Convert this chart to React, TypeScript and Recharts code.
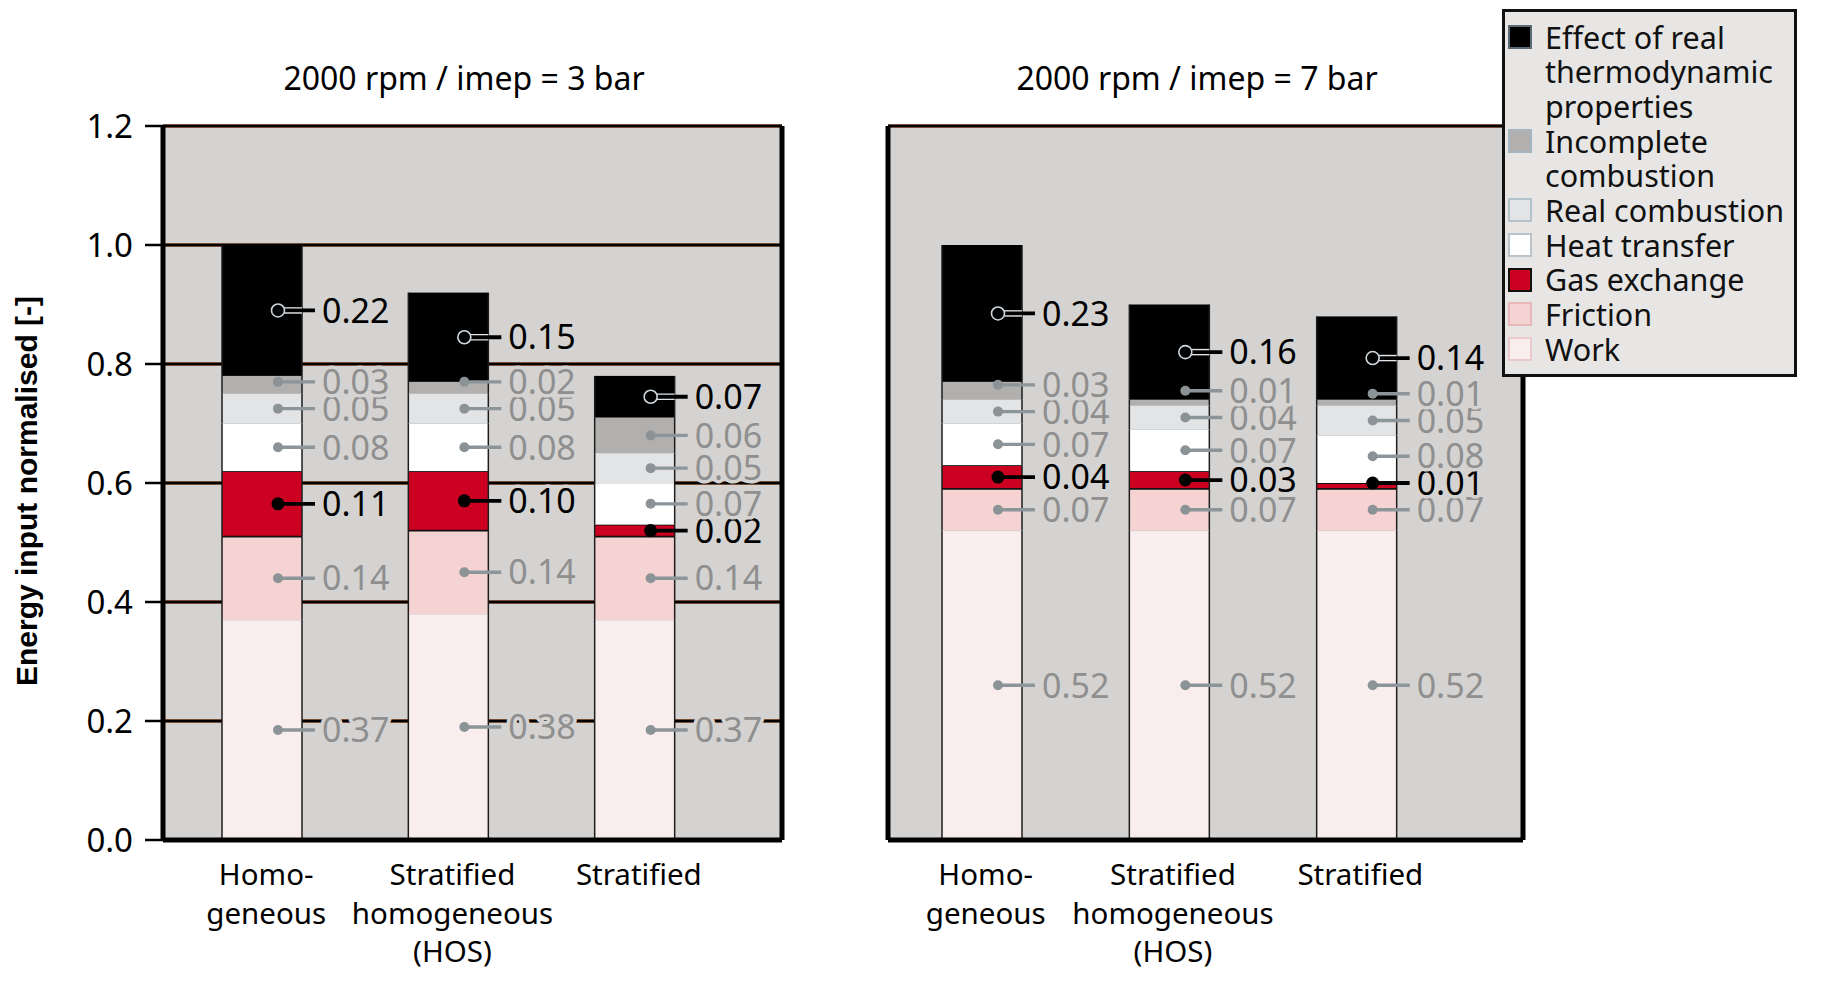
import React from 'react'
import { BarChart, Bar, XAxis, YAxis, CartesianGrid, LabelList } from 'recharts'

// x categories (line breaks as in the figure)
const categories = ['Homo-\ngeneous', 'Stratified\nhomogeneous\n(HOS)', 'Stratified']

// 2000 rpm / imep = 3 bar
const work3 = [0.37, 0.38, 0.37]
const friction3 = [0.14, 0.14, 0.14]
const gasExchange3 = [0.11, 0.1, 0.02]
const heatTransfer3 = [0.08, 0.08, 0.07]
const realCombustion3 = [0.05, 0.05, 0.05]
const incomplete3 = [0.03, 0.02, 0.06]
const thermo3 = [0.22, 0.15, 0.07]

// 2000 rpm / imep = 7 bar
const work7 = [0.52, 0.52, 0.52]
const friction7 = [0.07, 0.07, 0.07]
const gasExchange7 = [0.04, 0.03, 0.01]
const heatTransfer7 = [0.07, 0.07, 0.08]
const realCombustion7 = [0.04, 0.04, 0.05]
const incomplete7 = [0.03, 0.01, 0.01]
const thermo7 = [0.23, 0.16, 0.14]

const yTicks = [0, 0.2, 0.4, 0.6, 0.8, 1.0, 1.2]

// stacking order, bottom to top
const seriesKeys = ['work', 'friction', 'gasExchange', 'heatTransfer', 'realCombustion', 'incomplete', 'thermo']
const seriesNames = [
  'Work',
  'Friction',
  'Gas exchange',
  'Heat transfer',
  'Real combustion',
  'Incomplete combustion',
  'Effect of real thermodynamic properties',
]

const FONT = '"Noto Sans", sans-serif'
const PLOT_BG = '#d4d3d1'
// smallest distance between two value labels of one bar, in data units
const LABEL_GAP = 0.045

const fills: Record<string, string> = {
  work: '#f9eeed',
  friction: '#f5d3d2',
  gasExchange: '#cc0020',
  heatTransfer: '#ffffff',
  realCombustion: '#e3e4e5',
  incomplete: '#b1b0ae',
  thermo: '#000000',
}
const swatchBorders: Record<string, string> = {
  work: '#e9c9c9',
  friction: '#e6b8b8',
  gasExchange: '#111111',
  heatTransfer: '#b9c3c9',
  realCombustion: '#b3c3cc',
  incomplete: '#a4b6c0',
  thermo: '#5a6a74',
}

// one row per category; label shifts push crowded labels upward
function buildRows(cols: number[][]) {
  return categories.map((name, i) => {
    const row: Record<string, any> = { name }
    let base = 0
    let prev = -Infinity
    seriesKeys.forEach((k, j) => {
      const v = cols[j][i]
      const mid = base + v / 2
      const pos = Math.max(mid, prev + LABEL_GAP)
      row[k] = v
      row[k + 'Shift'] = pos - mid
      prev = pos
      base += v
    })
    return row
  })
}

const data3 = buildRows([work3, friction3, gasExchange3, heatTransfer3, realCombustion3, incomplete3, thermo3])
const data7 = buildRows([work7, friction7, gasExchange7, heatTransfer7, realCombustion7, incomplete7, thermo7])

function makeShape(key: string) {
  return (props: any) => {
    const { x, y, width, height } = props
    if (!height) return <g />
    return (
      <g>
        <rect x={x} y={y} width={width} height={height} fill={fills[key]} />
        {key === 'gasExchange' && (
          <>
            <line x1={x} x2={x + width} y1={y} y2={y} stroke="#111" strokeWidth={1.8} />
            <line x1={x} x2={x + width} y1={y + height} y2={y + height} stroke="#111" strokeWidth={1.8} />
          </>
        )}
        {(key === 'heatTransfer' || key === 'work') && (
          <line x1={x} x2={x + width} y1={y} y2={y} stroke="#bcc6cc" strokeWidth={1} />
        )}
        <line x1={x} x2={x} y1={y} y2={y + height} stroke="#1d1d1d" strokeWidth={1.5} />
        <line x1={x + width} x2={x + width} y1={y} y2={y + height} stroke="#1d1d1d" strokeWidth={1.5} />
      </g>
    )
  }
}

function makeLabel(key: string) {
  return (props: any) => {
    const vb = props.viewBox && props.viewBox.width !== undefined ? props.viewBox : props
    const x = Number(vb.x)
    const y = Number(vb.y)
    const w = Number(vb.width)
    const h = Number(vb.height)
    const [valueText, shiftText] = String(props.value).split('|')
    const value = Number(valueText)
    if (!h || !value) return null
    const shiftPx = (Number(shiftText || 0) * h) / value
    const cx = x + w / 2 + 16
    const cy = y + h / 2 - shiftPx
    const lineEnd = x + w + 13
    const tx = x + w + 20
    const dark = key === 'thermo' || key === 'gasExchange'
    return (
      <g>
        {key === 'thermo' && (
          <line x1={cx} x2={x + w} y1={cy} y2={cy} stroke="#dfe5ea" strokeWidth={6.5} />
        )}
        <line
          x1={cx}
          x2={lineEnd}
          y1={cy}
          y2={cy}
          stroke={dark ? '#000' : '#8c9599'}
          strokeWidth={dark ? 3.8 : 3.4}
        />
        {key === 'thermo' ? (
          <circle cx={cx} cy={cy} r={6.5} fill="#000" stroke="#cfd8de" strokeWidth={1.6} />
        ) : (
          <circle cx={cx} cy={cy} r={dark ? 6.5 : 5} fill={dark ? '#000' : '#8c9396'} />
        )}
        <text
          x={tx}
          y={cy}
          dy="0.36em"
          fontFamily={FONT}
          fontSize={34}
          fill={dark ? '#000' : '#8f8f8f'}
          stroke={PLOT_BG}
          strokeWidth={7}
          strokeLinejoin="round"
          paintOrder="stroke"
        >
          {value.toFixed(2)}
        </text>
      </g>
    )
  }
}

function CategoryTick(props: any) {
  const { x, y, payload } = props
  const lines = String(payload.value).split('\n')
  return (
    <text x={x} y={y} textAnchor="middle" fontFamily={FONT} fontSize={29.5} fill="#000">
      {lines.map((l, i) => (
        <tspan key={i} x={x + 4} y={y + 45 + i * 38.5}>
          {l}
        </tspan>
      ))}
    </text>
  )
}

const frameLine = { stroke: '#000', strokeWidth: 5 }

function Panel(props: {
  data: any[]
  width: number
  margin: any
  yWidth: number
  padding: { left: number; right: number }
  showY: boolean
  title: string
  titleX: number
}) {
  const { data, width, margin, yWidth, padding, showY, title, titleX } = props
  return (
    <BarChart width={width} height={1004} data={data} margin={margin} barSize={80}>
      <CartesianGrid vertical={false} fill={PLOT_BG} stroke="#e79a6c" strokeWidth={4.2} />
      <CartesianGrid vertical={false} stroke="#000" strokeWidth={2.8} />
      {seriesKeys.map((k, j) => (
        <Bar
          key={k}
          dataKey={k}
          name={seriesNames[j]}
          stackId="a"
          fill={fills[k]}
          shape={makeShape(k)}
          isAnimationActive={false}
        >
          <LabelList dataKey={(row: any) => `${row[k]}|${row[k + 'Shift']}`} content={makeLabel(k)} />
        </Bar>
      ))}
      <XAxis
        dataKey="name"
        type="category"
        interval={0}
        padding={padding}
        height={120}
        axisLine={frameLine}
        tickLine={false}
        tickSize={0}
        tickMargin={0}
        tick={<CategoryTick />}
      />
      <XAxis
        xAxisId="top"
        orientation="top"
        dataKey="name"
        type="category"
        height={0}
        axisLine={frameLine}
        tickLine={false}
        tick={false}
      />
      {showY ? (
        <YAxis
          type="number"
          domain={[0, 1.2]}
          ticks={yTicks}
          width={yWidth}
          tickFormatter={(v: number) => v.toFixed(1)}
          axisLine={frameLine}
          tickSize={18}
          tickMargin={12}
          tickLine={{ stroke: '#000', strokeWidth: 2.5 }}
          tick={{ fill: '#000', fontSize: 33, fontFamily: FONT }}
        />
      ) : (
        <YAxis
          type="number"
          domain={[0, 1.2]}
          ticks={yTicks}
          width={yWidth}
          axisLine={frameLine}
          tickLine={false}
          tick={false}
        />
      )}
      <YAxis
        yAxisId="right"
        orientation="right"
        type="number"
        domain={[0, 1.2]}
        width={1}
        axisLine={frameLine}
        tickLine={false}
        tick={false}
      />
      <text x={titleX} y={90} textAnchor="middle" fontFamily={FONT} fontSize={32} fill="#000">
        {title}
      </text>
      {showY && (
        <text
          x={37}
          y={491}
          transform="rotate(-90 37 491)"
          textAnchor="middle"
          fontFamily='"Liberation Sans", Arial, sans-serif'
          fontWeight="bold"
          fontSize={30}
          fill="#000"
        >
          Energy input normalised [-]
        </text>
      )}
    </BarChart>
  )
}

function LegendBox() {
  const order = [...seriesKeys].reverse()
  return (
    <div
      style={{
        position: 'absolute',
        left: 1502,
        top: 9,
        width: 295,
        height: 368,
        boxSizing: 'border-box',
        border: '3px solid #111',
        background: '#e7e6e4',
        paddingTop: 7.5,
        fontFamily: FONT,
        fontSize: 30.5,
        lineHeight: '34.7px',
        color: '#111',
      }}
    >
      {order.map(k => (
        <div key={k} style={{ display: 'flex', alignItems: 'flex-start' }}>
          <span
            style={{
              flex: 'none',
              width: 24,
              height: 24,
              marginTop: 5.3,
              marginLeft: 3,
              marginRight: 13,
              boxSizing: 'border-box',
              border: `2px solid ${swatchBorders[k]}`,
              background: fills[k],
            }}
          />
          <span style={{ width: 249 }}>{seriesNames[seriesKeys.indexOf(k)]}</span>
        </div>
      ))}
    </div>
  )
}

export default function App() {
  return (
    <div style={{ position: 'absolute', left: 0, top: 0, width: 1821, height: 1004, background: '#fff', overflow: 'hidden' }}>
      <div style={{ position: 'absolute', left: 0, top: 0 }}>
        <Panel
          data={data3}
          width={800}
          margin={{ top: 126, right: 17, bottom: 44, left: 63 }}
          yWidth={100}
          padding={{ left: 6, right: 54 }}
          showY
          title="2000 rpm / imep = 3 bar"
          titleX={464}
        />
      </div>
      <div style={{ position: 'absolute', left: 800, top: 0 }}>
        <Panel
          data={data7}
          width={1021}
          margin={{ top: 126, right: 297, bottom: 44, left: 87 }}
          yWidth={1}
          padding={{ left: 0, right: 73 }}
          showY={false}
          title="2000 rpm / imep = 7 bar"
          titleX={397}
        />
      </div>
      <LegendBox />
    </div>
  )
}
